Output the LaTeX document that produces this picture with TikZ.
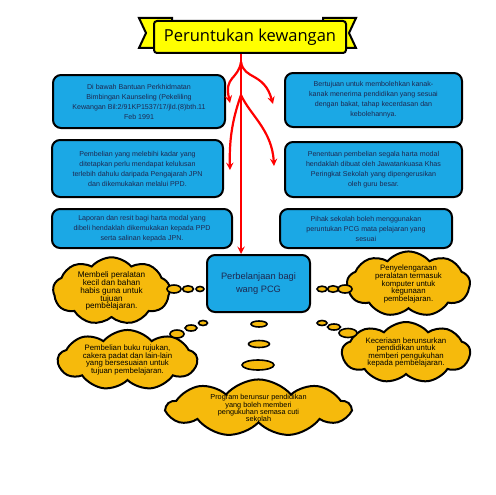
\documentclass[tikz,border=0pt]{standalone}
\usepackage{fontspec}
\setmainfont{Liberation Sans}
\newfontfamily\titlefont{Open Sans}
\usetikzlibrary{arrows,positioning,shapes.symbols}

\definecolor{boxblue}{RGB}{27,168,229}
\definecolor{cloudgold}{RGB}{246,186,12}
\definecolor{bannery}{RGB}{255,255,0}
\definecolor{navytext}{RGB}{30,40,80}

\tikzset{
  infobox/.style={draw=black,line width=2pt,rounded corners=8pt,fill=boxblue,
    align=center,text=navytext,font=\fontsize{7.1}{10}\selectfont,inner sep=0pt},
  idea/.style={cloud,draw=black,line width=2pt,fill=cloudgold,align=center,
    font=\fontsize{7.8}{7.6}\selectfont,cloud puffs=9,cloud puff arc=100,cloud ignores aspect,inner sep=0pt},
  bubble/.style={draw=black,line width=1.6pt,fill=cloudgold},
  fountain/.style={red,line width=2.2pt,-stealth}
}

\begin{document}
\begin{tikzpicture}[x=1pt,y=-1pt]
\useasboundingbox (0,0) rectangle (495,495);
\fill[white] (0,0) rectangle (495,495);

% banner
\draw[line width=2pt,fill=bannery] (139,18) -- (172,18) -- (172,48) -- (139,48) -- (146,33) -- cycle;
\draw[line width=2pt,fill=bannery] (356,18) -- (323,18) -- (323,48) -- (356,48) -- (349,33) -- cycle;
\node[draw=black,line width=2pt,fill=bannery,rounded corners=3pt,minimum width=192pt,
  minimum height=32pt,font=\titlefont\fontsize{16.5}{18}\selectfont] (title) at (250,37) {Peruntukan kewangan};

% blue boxes
\node[infobox,minimum width=172pt,minimum height=53pt] (dibawah) at (139,101.5)
  {Di bawah Bantuan Perkhidmatan\\Bimbingan Kaunseling (Pekeliling\\Kewangan Bil:2/91KP1537/17/jld.(8)bth.11\\Feb 1991};
\node[infobox,minimum width=177pt,minimum height=54pt] (bertujuan) at (373.5,100)
  {Bertujuan untuk membolehkan kanak-\\kanak menerima pendidikan yang sesuai\\dengan bakat, tahap kecerdasan dan\\kebolehannya.};
\node[infobox,minimum width=171pt,minimum height=57pt] (pembelian) at (137.5,168.5)
  {Pembelian yang melebihi kadar yang\\ditetapkan perlu mendapat kelulusan\\terlebih dahulu daripada Pengajarah JPN\\dan dikemukakan melalui PPD.};
\node[infobox,minimum width=177pt,minimum height=55pt] (penentuan) at (373.5,169.5)
  {Penentuan pembelian segala harta modal\\hendaklah dibuat oleh Jawatankuasa Khas\\Peringkat Sekolah yang dipengerusikan\\oleh guru besar.};
\node[infobox,minimum width=180pt,minimum height=39pt] (laporan) at (142,228.5)
  {Laporan dan resit bagi harta modal yang\\dibeli hendaklah dikemukakan kepada PPD\\serta salinan kepada JPN.};
\node[infobox,minimum width=172pt,minimum height=39pt] (pihak) at (366,228.5)
  {Pihak sekolah boleh menggunakan\\peruntukan PCG mata pelajaran yang\\sesuai};
\node[infobox,minimum width=103pt,minimum height=57pt,font=\fontsize{9.3}{13}\selectfont] (pcg) at (258.5,283.5)
  {Perbelanjaan bagi\\wang PCG};

% red arrows
\coordinate (fork) at (241,62);
\coordinate (split) at (241,95);
\draw[fountain] (title.south -| fork) -- (pcg.north -| fork);
\draw[fountain] (fork) .. controls (238,80) and (224,76) .. (230,103);
\draw[fountain] (fork) .. controls (244,80) and (264,72) .. (273,104);
\draw[fountain] (split) .. controls (234,115) and (229,135) .. (230,170);
\draw[fountain] (split) .. controls (250,115) and (272,130) .. (274,166);

% clouds
\node[idea,minimum width=117pt,minimum height=58pt,font=\fontsize{8.2}{7.9}\selectfont] (peralatan) at (111.5,291)
  {Membeli peralatan\\kecil dan bahan\\habis guna untuk\\tujuan\\pembelajaran.};
\node[idea,minimum width=123pt,minimum height=58pt] (komputer) at (408.5,284)
  {Penyelengaraan\\peralatan termasuk\\komputer untuk\\kegunaan\\pembelajaran.};
\node[idea,minimum width=139pt,minimum height=54pt] (buku) at (127.5,360)
  {Pembelian buku rujukan,\\cakera padat dan lain-lain\\yang bersesuaian untuk\\tujuan pembelajaran.};
\node[idea,minimum width=128pt,minimum height=61pt] (keceriaan) at (406,352.5)
  {Keceriaan berunsurkan\\pendidikan untuk\\memberi pengukuhan\\kepada pembelajaran.};
\node[idea,minimum width=183pt,minimum height=50pt,font=\fontsize{7.3}{7.1}\selectfont] (program) at (258.5,408)
  {Program berunsur pendidikan\\yang boleh memberi\\pengukuhan semasa cuti\\sekolah};

% thought bubbles
\draw[bubble] (174,289) ellipse (7 and 4);
\draw[bubble] (188,289) ellipse (5.5 and 3.2);
\draw[bubble] (200,289) ellipse (4 and 2.5);
\draw[bubble] (345,289) ellipse (7 and 4);
\draw[bubble] (333,289) ellipse (5.5 and 3.2);
\draw[bubble] (322,289) ellipse (5 and 2.8);
\draw[bubble] (177,334) ellipse (7 and 4);
\draw[bubble] (191,328) ellipse (6 and 3);
\draw[bubble] (203,323) ellipse (4.5 and 2.5);
\draw[bubble] (348,333) ellipse (9 and 4.5);
\draw[bubble] (334,327) ellipse (6.5 and 3);
\draw[bubble] (322,323) ellipse (5 and 2.5);
\draw[bubble] (258,365) ellipse (16 and 5);
\draw[bubble] (259,344) ellipse (10.5 and 3.5);
\draw[bubble] (259,324) ellipse (8 and 3);
\end{tikzpicture}
\end{document}
